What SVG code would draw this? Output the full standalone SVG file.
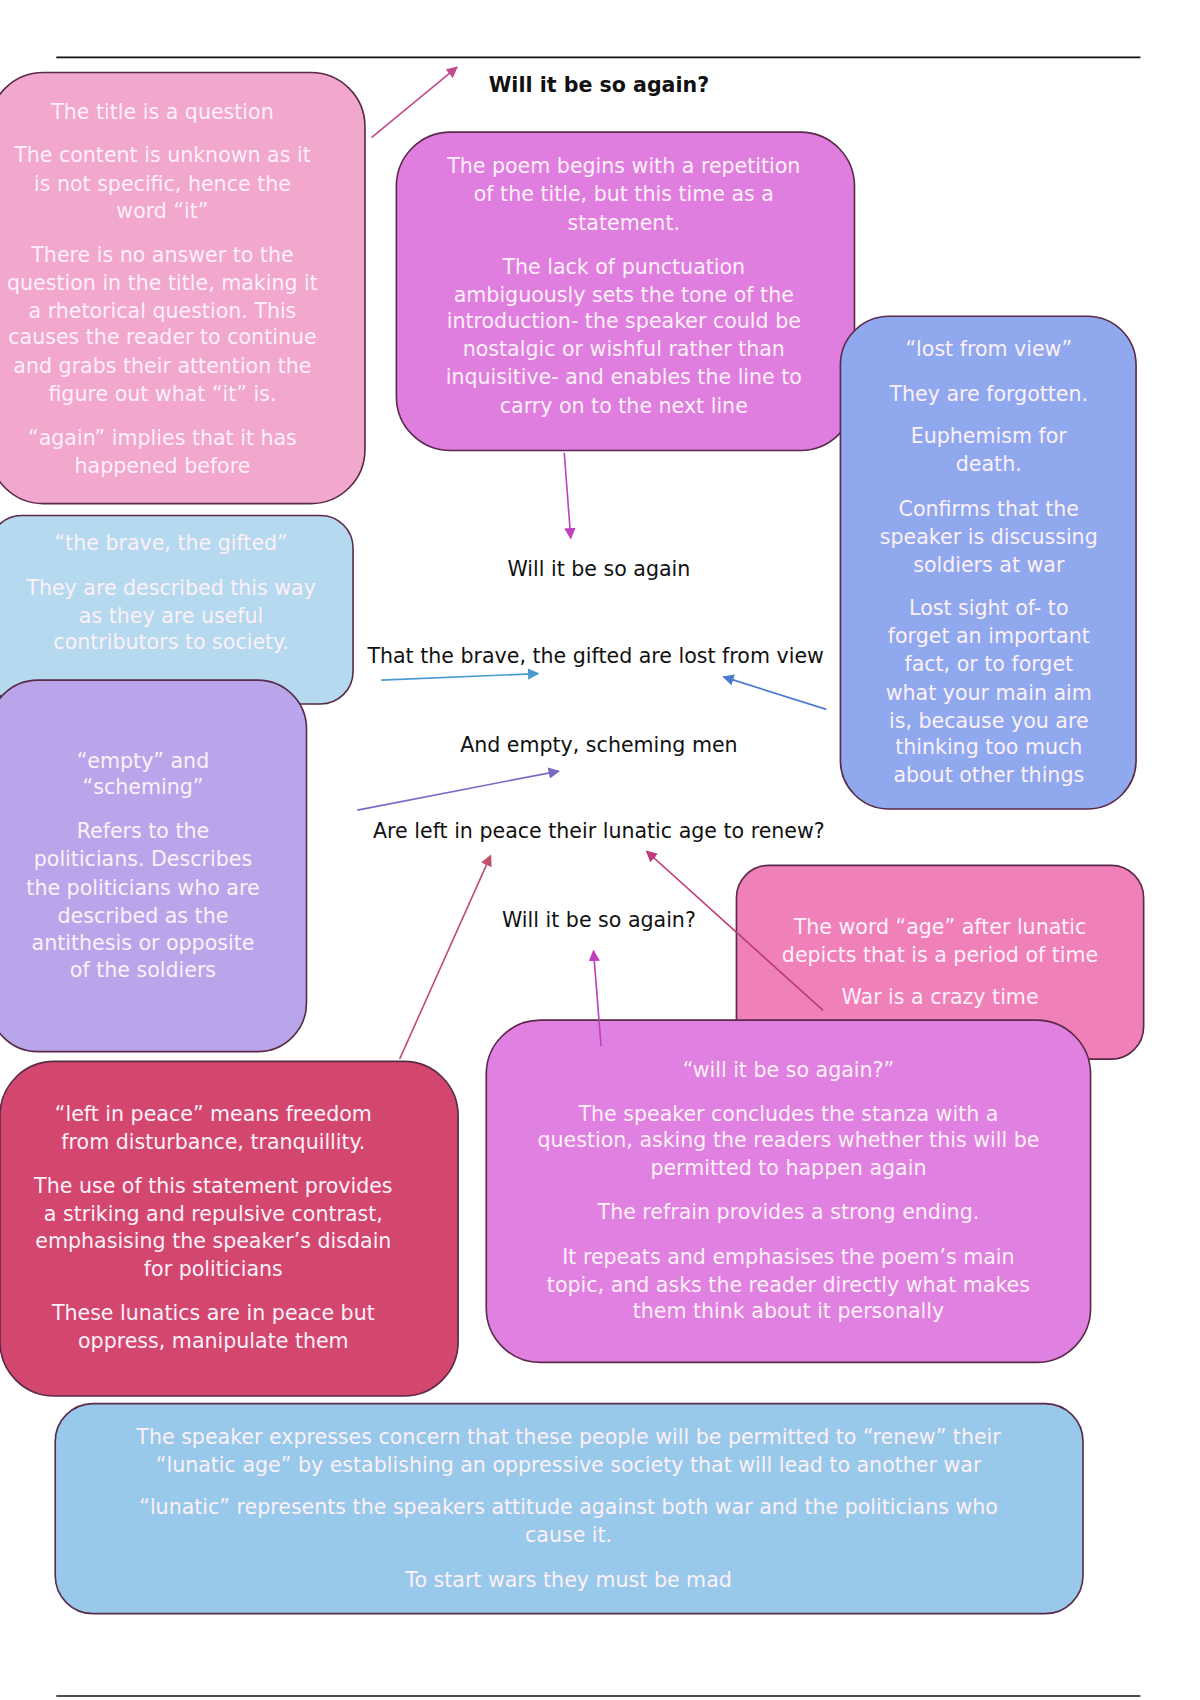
<svg xmlns="http://www.w3.org/2000/svg" width="1200" height="1700" viewBox="0 0 1200 1700">
<defs>
<marker id="ah" viewBox="0 0 10 10" refX="9" refY="5" markerWidth="7" markerHeight="7" orient="auto-start-reverse"><path d="M0,0L10,5L0,10z" fill="context-stroke"/></marker>
<style>
.b{stroke:#5a2a4a;stroke-width:1.5}
.w{font-family:"DejaVu Sans",sans-serif;font-size:19px;fill:#fdf0f8;text-anchor:middle}
.k{font-family:"DejaVu Sans",sans-serif;font-size:19px;fill:#111;text-anchor:middle}
.c{fill:none;stroke-width:1.5;marker-end:url(#ah)}
</style>
</defs>
<rect width="1200" height="1700" fill="#fff"/>
<g transform="scale(1.083)">
<line x1="52" y1="53" x2="1053" y2="53" stroke="#111" stroke-width="1.5"/>
<line x1="52" y1="1566" x2="1053" y2="1566" stroke="#111" stroke-width="1.5"/>
<g id="title"><text class="k" x="553" y="85" font-weight="bold">Will it be so again?</text></g>
<g id="lines">
<text class="k" x="553" y="532">Will it be so again</text>
<text class="k" x="550" y="612">That the brave, the gifted are lost from view</text>
<text class="k" x="553" y="694">And empty, scheming men</text>
<text class="k" x="553" y="774">Are left in peace their lunatic age to renew?</text>
<text class="k" x="553" y="856">Will it be so again?</text>
</g>
<g id="n1"><rect class="b" x="-10" y="67" width="347" height="398" rx="50" fill="#f2a7cc"/>
<text class="w"><tspan x="150" y="110">The title is a question</tspan><tspan x="150" y="150">The content is unknown as it</tspan><tspan x="150" y="176">is not specific, hence the</tspan><tspan x="150" y="201">word “it”</tspan><tspan x="150" y="242">There is no answer to the</tspan><tspan x="150" y="268">question in the title, making it</tspan><tspan x="150" y="294">a rhetorical question. This</tspan><tspan x="150" y="318">causes the reader to continue</tspan><tspan x="150" y="344">and grabs their attention the</tspan><tspan x="150" y="370">figure out what “it” is.</tspan><tspan x="150" y="411">“again” implies that it has</tspan><tspan x="150" y="437">happened before</tspan></text></g>
<g id="n2"><rect class="b" x="366" y="122" width="423" height="294" rx="50" fill="#e07ee0"/>
<text class="w"><tspan x="576" y="160">The poem begins with a repetition</tspan><tspan x="576" y="186">of the title, but this time as a</tspan><tspan x="576" y="212">statement.</tspan><tspan x="576" y="253">The lack of punctuation</tspan><tspan x="576" y="279">ambiguously sets the tone of the</tspan><tspan x="576" y="303">introduction- the speaker could be</tspan><tspan x="576" y="329">nostalgic or wishful rather than</tspan><tspan x="576" y="355">inquisitive- and enables the line to</tspan><tspan x="576" y="381">carry on to the next line</tspan></text></g>
<g id="n3"><rect class="b" x="776" y="292" width="273" height="455" rx="45" fill="#8fa8ee"/>
<text class="w"><tspan x="913" y="329">“lost from view”</tspan><tspan x="913" y="370">They are forgotten.</tspan><tspan x="913" y="409">Euphemism for</tspan><tspan x="913" y="435">death.</tspan><tspan x="913" y="476">Confirms that the</tspan><tspan x="913" y="502">speaker is discussing</tspan><tspan x="913" y="528">soldiers at war</tspan><tspan x="913" y="568">Lost sight of- to</tspan><tspan x="913" y="594">forget an important</tspan><tspan x="913" y="620">fact, or to forget</tspan><tspan x="913" y="646">what your main aim</tspan><tspan x="913" y="672">is, because you are</tspan><tspan x="913" y="696">thinking too much</tspan><tspan x="913" y="722">about other things</tspan></text></g>
<g id="n4"><rect class="b" x="-10" y="476" width="336" height="174" rx="30" fill="#b5d9ee"/>
<text class="w"><tspan x="158" y="508">“the brave, the gifted”</tspan><tspan x="158" y="549">They are described this way</tspan><tspan x="158" y="575">as they are useful</tspan><tspan x="158" y="599">contributors to society.</tspan></text></g>
<g id="n5"><rect class="b" x="-10" y="628" width="293" height="343" rx="45" fill="#b9a6ea"/>
<text class="w"><tspan x="132" y="709">“empty” and</tspan><tspan x="132" y="733">“scheming”</tspan><tspan x="132" y="774">Refers to the</tspan><tspan x="132" y="800">politicians. Describes</tspan><tspan x="132" y="826">the politicians who are</tspan><tspan x="132" y="852">described as the</tspan><tspan x="132" y="877">antithesis or opposite</tspan><tspan x="132" y="902">of  the soldiers</tspan></text></g>
<g id="n6"><rect class="b" x="680" y="799" width="376" height="179" rx="30" fill="#ef80b8"/>
<text class="w"><tspan x="868" y="862">The word “age” after lunatic</tspan><tspan x="868" y="888">depicts that is a period of time</tspan><tspan x="868" y="927">War is a crazy time</tspan></text></g>
<g id="n7"><rect class="b" x="0" y="980" width="423" height="309" rx="50" fill="#d3476f"/>
<text class="w"><tspan x="197" y="1035">“left in peace” means freedom</tspan><tspan x="197" y="1061">from disturbance, tranquillity.</tspan><tspan x="197" y="1102">The use of this statement provides</tspan><tspan x="197" y="1127">a striking and repulsive contrast,</tspan><tspan x="197" y="1152">emphasising the speaker’s disdain</tspan><tspan x="197" y="1178">for politicians</tspan><tspan x="197" y="1219">These lunatics are in peace but</tspan><tspan x="197" y="1245">oppress, manipulate them</tspan></text></g>
<g id="n8"><rect class="b" x="449" y="942" width="558" height="316" rx="50" fill="#e080e0"/>
<text class="w"><tspan x="728" y="994">“will it be so again?”</tspan><tspan x="728" y="1035">The speaker concludes the stanza with a</tspan><tspan x="728" y="1059">question, asking the readers whether this will be</tspan><tspan x="728" y="1085">permitted to happen again</tspan><tspan x="728" y="1126">The refrain provides a strong ending.</tspan><tspan x="728" y="1167">It repeats and emphasises the poem’s main</tspan><tspan x="728" y="1193">topic, and asks the reader directly what makes</tspan><tspan x="728" y="1217">them think about it personally</tspan></text></g>
<g id="n9"><rect class="b" x="51" y="1296" width="949" height="194" rx="35" fill="#98c9ea"/>
<text class="w"><tspan x="525" y="1333">The speaker expresses concern that these people will be permitted to “renew” their</tspan><tspan x="525" y="1359">“lunatic age” by establishing an oppressive society that will lead to another war</tspan><tspan x="525" y="1398">“lunatic” represents the speakers attitude against both war and the politicians who</tspan><tspan x="525" y="1424">cause it.</tspan><tspan x="525" y="1465">To start wars they must be mad</tspan></text></g>
<g id="connectors">
<line class="c" x1="343" y1="127" x2="422" y2="62" stroke="#c04a8a"/>
<line class="c" x1="521" y1="418" x2="527" y2="497" stroke="#c040c0"/>
<line class="c" x1="352" y1="628" x2="497" y2="622" stroke="#4a9ad0"/>
<line class="c" x1="763" y1="655" x2="668" y2="625" stroke="#4a7ad0"/>
<line class="c" x1="330" y1="748" x2="516" y2="712" stroke="#7a6ac8"/>
<line class="c" x1="760" y1="933" x2="597" y2="786" stroke="#c03a7a"/>
<line class="c" x1="369" y1="978" x2="453" y2="790" stroke="#c0506a"/>
<line class="c" x1="555" y1="966" x2="548" y2="878" stroke="#c040c0"/>
</g>
</g>
</svg>
